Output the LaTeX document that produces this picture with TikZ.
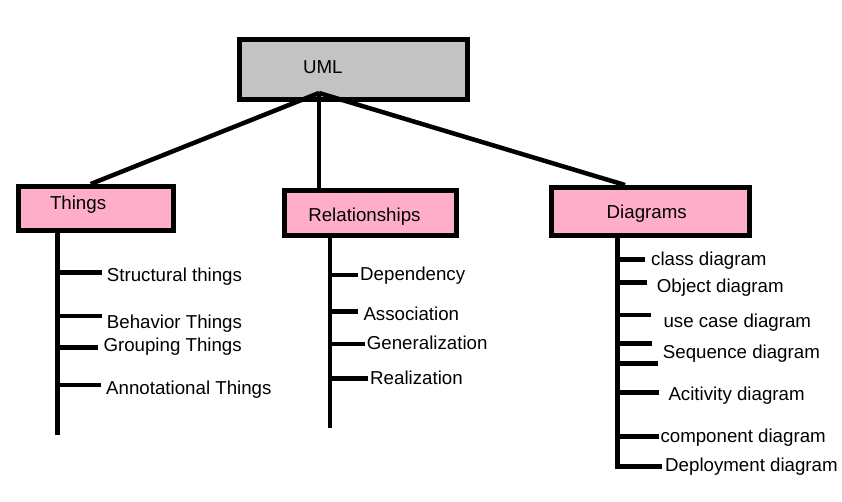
\documentclass[tikz,border=0pt]{standalone}
\usepackage{fontspec}
\setmainfont{Liberation Sans}
\definecolor{umlgray}{RGB}{195,195,195}
\definecolor{umlpink}{RGB}{255,174,201}
\begin{document}
\begin{tikzpicture}[x=1pt, y=-1pt, font=\fontsize{18.7}{20}\selectfont,
	box/.style={draw, line width=5pt, anchor=north west, inner ysep=0pt, align=left},
	lab/.style={anchor=base west, inner ysep=0pt},
	ln/.style={line width=4.5pt}]
	\useasboundingbox (0,0) rectangle (842,501);
	% các hộp
	\path 
	(237,37) node[box, fill=umlgray, text width=101pt, inner xsep=63.5pt, text height=33.7pt, text depth=26.3pt] (uml) {UML}
	(16,184) node[box, fill=umlpink, text width=92pt, inner xsep=31.5pt, text height=23.4pt, text depth=20.6pt] (things) {Things}
	(282,188) node[box, fill=umlpink, text width=124.4pt, inner xsep=23.8pt, text height=31.2pt, text depth=13.8pt] (rel) {Relationships}
	(549,185) node[box, fill=umlpink, text width=87.6pt, inner xsep=55.2pt, text height=30.7pt, text depth=17.3pt] (diag) {Diagrams};
	\coordinate (hub) at (319,93);
	\coordinate (thingsend) at (57.7,435);
	\coordinate (relend) at (330,428.3);
	\coordinate (diagend) at (617.3,469);
	\draw[ln] (hub) -- ([xshift=-5.3pt]things.north);
	\draw[ln] (hub) -- (hub |- rel.north);
	\draw[ln] (hub) -- ([xshift=-25.5pt]diag.north);
	\draw[ln] (thingsend |- things.south) -- (thingsend);
	\draw[ln] (relend |- rel.south) -- (relend);
	\draw[ln] (diagend |- diag.south) -- (diagend);
	% nhãn
	\path 
	(101.7,281.7) node[lab, inner xsep=5pt] (st) {Structural things}
	(101.7,328.3) node[lab, inner xsep=5pt] (bt) {Behavior Things}
	(98.3,351.7) node[lab, inner xsep=5pt] (gt) {Grouping Things}
	(101,394) node[lab, inner xsep=5pt] (an) {Annotational Things}
	(358,280.7) node[lab, inner xsep=2pt] (dep) {Dependency}
	(358,320) node[lab, inner xsep=5.3pt] (ass) {Association}
	(365,349) node[lab, inner xsep=1.7pt] (gen) {Generalization}
	(368,384) node[lab, inner xsep=2pt] (rea) {Realization}
	(645,265) node[lab, inner xsep=6pt] (cls) {class diagram}
	(646.7,292.3) node[lab, inner xsep=10pt] (obj) {Object diagram}
	(650.7,327.3) node[lab, inner xsep=12.6pt] (use) {use case diagram}
	(658.3,358.3) node[lab, inner xsep=4.4pt] (seq) {Sequence diagram}
	(659.3,400) node[lab, inner xsep=9pt] (act) {Acitivity diagram}
	(659.3,442.7) node[lab, inner xsep=1pt] (com) {component diagram}
	(661.7,471.7) node[lab, inner xsep=3.3pt] (dpl) {Deployment diagram};
	\path 
	(thingsend |- 0,272.7) coordinate (st0)
	(thingsend |- 0,316) coordinate (bt0)
	(thingsend |- 0,347.3) coordinate (gt0)
	(thingsend |- 0,385) coordinate (an0)
	(relend |- 0,275) coordinate (dep0)
	(relend |- 0,311.7) coordinate (ass0)
	(relend |- 0,344) coordinate (gen0)
	(relend |- 0,378.3) coordinate (rea0)
	(diagend |- 0,259.3) coordinate (cls0)
	(diagend |- 0,282.3) coordinate (obj0)
	(diagend |- 0,315) coordinate (use0)
	(diagend |- 0,343.3) coordinate (seqa0)
	(diagend |- 0,363.3) coordinate (seqb0)
	(diagend |- 0,392.7) coordinate (act0)
	(diagend |- 0,436.7) coordinate (com0)
	(diagend |- 0,466.5) coordinate (dpl0);
	\draw[ln] (st0) -- (st0 -| st.west);
	\draw[ln] (bt0) -- (bt0 -| bt.west);
	\draw[ln] (gt0) -- (gt0 -| gt.west);
	\draw[ln] (an0) -- (an0 -| an.west);
	\draw[ln] (dep0) -- (dep0 -| dep.west);
	\draw[ln] (ass0) -- (ass0 -| ass.west);
	\draw[ln] (gen0) -- (gen0 -| gen.west);
	\draw[ln] (rea0) -- (rea0 -| rea.west);
	\draw[ln] (cls0) -- (cls0 -| cls.west);
	\draw[ln] (obj0) -- (obj0 -| obj.west);
	\draw[ln] (use0) -- (use0 -| use.west);
	\draw[ln, shorten >=6.6pt] (seqa0) -- (seqa0 -| seq.west);
	\draw[ln] (seqb0) -- (seqb0 -| seq.west);
	\draw[ln] (act0) -- (act0 -| act.west);
	\draw[ln] (com0) -- (com0 -| com.west);
	\draw[ln] (dpl0) -- (dpl0 -| dpl.west);
\end{tikzpicture}
\end{document}
